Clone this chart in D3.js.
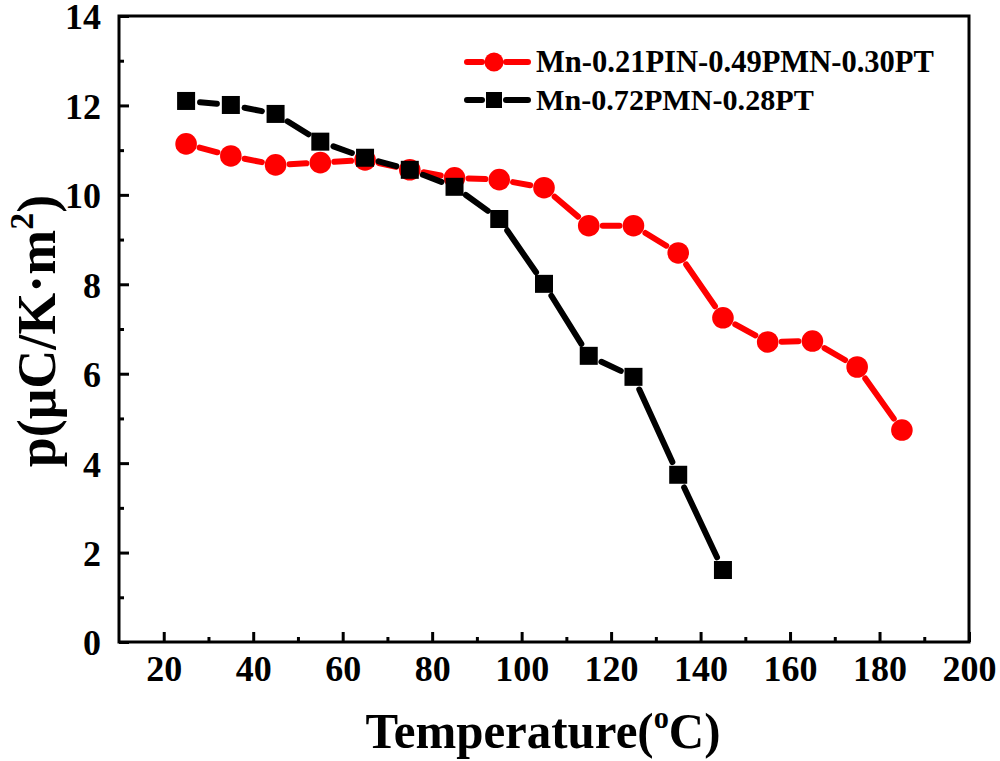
<!DOCTYPE html>
<html><head><meta charset="utf-8">
<script src="https://cdn.jsdelivr.net/npm/d3@7"></script>
<style>body{margin:0;background:#fff}svg{display:block}</style>
</head><body><svg id="c" width="1000" height="761"></svg>
<script>
const temps = [25,35,45,55,65,75,85,95,105,115,125,135,145,155,165,175,185];
const redName = "Mn-0.21PIN-0.49PMN-0.30PT";
const redVals = [11.14,10.87,10.67,10.72,10.78,10.56,10.38,10.34,10.16,9.31,9.31,8.70,7.25,6.71,6.73,6.15,4.74];
const blackName = "Mn-0.72PMN-0.28PT";
const blackTemps = [25,35,45,55,65,75,85,95,105,115,125,135,145];
const blackVals = [12.10,12.01,11.81,11.19,10.83,10.56,10.18,9.46,8.01,6.40,5.93,3.74,1.61];
const xTicks = [20,40,60,80,100,120,140,160,180,200];
const xMinor = [30,50,70,90,110,130,150,170,190];
const yTicks = [0,2,4,6,8,10,12,14];
const yMinor = [1,3,5,7,9,11,13];

const FONT = "'Liberation Serif', 'Times New Roman', serif";
const svg = d3.select("#c");
const L=119,R=969,T=16,B=642;
const x = d3.scaleLinear().domain([10,200]).range([L,R]);
const y = d3.scaleLinear().domain([0,14]).range([B,T]);

function series(xs, ys, color, shape){
  const pts = xs.map((t,i)=>[x(t),y(ys[i])]);
  const g = svg.append("g");
  const gap = 14;
  for(let i=0;i<pts.length-1;i++){
    const [x1,y1]=pts[i],[x2,y2]=pts[i+1];
    const dx=x2-x1,dy=y2-y1,len=Math.hypot(dx,dy);
    if(len<=2*gap) continue;
    const ux=dx/len,uy=dy/len;
    g.append("line").attr("x1",x1+ux*gap).attr("y1",y1+uy*gap)
      .attr("x2",x2-ux*gap).attr("y2",y2-uy*gap)
      .attr("stroke",color).attr("stroke-width",6).attr("stroke-linecap","round");
  }
  pts.forEach(p=>{
    if(shape==="circle") g.append("circle").attr("cx",p[0]).attr("cy",p[1]).attr("r",10.8).attr("fill",color);
    else g.append("rect").attr("x",p[0]-9).attr("y",p[1]-9).attr("width",18).attr("height",18).attr("fill",color);
  });
}
series(temps, redVals, "#ff0000", "circle");
series(blackTemps, blackVals, "#000000", "square");

svg.append("rect").attr("x",L).attr("y",T).attr("width",R-L).attr("height",B-T)
  .attr("fill","none").attr("stroke","#000").attr("stroke-width",3);

const xa = svg.append("g").attr("transform",`translate(0,${B})`)
  .call(d3.axisBottom(x).tickValues(xTicks).tickSize(-10).tickPadding(0).tickFormat(d3.format("d")));
xa.attr("font-family",FONT).attr("font-size",36).attr("font-weight","bold");
xa.select(".domain").remove();
xa.selectAll(".tick line").attr("stroke-width",3);
xa.selectAll("text").attr("fill","#000").attr("y",39).attr("dy",null);
const xm = svg.append("g").attr("transform",`translate(0,${B})`)
  .call(d3.axisBottom(x).tickValues(xMinor).tickSize(-5).tickFormat(""));
xm.select(".domain").remove(); xm.selectAll(".tick line").attr("stroke-width",3);

const ya = svg.append("g").attr("transform",`translate(${L},0)`)
  .call(d3.axisLeft(y).tickValues(yTicks).tickSize(-10).tickPadding(18).tickFormat(d3.format("d")));
ya.attr("font-family",FONT).attr("font-size",36).attr("font-weight","bold");
ya.select(".domain").remove();
ya.selectAll(".tick line").attr("stroke-width",3);
ya.selectAll("text").attr("fill","#000").attr("dy","0.36em");
const ym = svg.append("g").attr("transform",`translate(${L},0)`)
  .call(d3.axisLeft(y).tickValues(yMinor).tickSize(-5).tickFormat(""));
ym.select(".domain").remove(); ym.selectAll(".tick line").attr("stroke-width",3);

const xt = svg.append("text").attr("x",0).attr("y",0).attr("text-anchor","middle")
  .attr("font-family",FONT).attr("font-weight","bold").attr("font-size",50).attr("fill","#000");
xt.append("tspan").text("Temperature(");
xt.append("tspan").text("o").attr("font-size",31).attr("dy",-20);
xt.append("tspan").text("C)").attr("dy",20);
const xw = xt.node().getComputedTextLength();
const sx = 355/xw;
xt.attr("transform",`translate(543,748) scale(${sx},1)`);

const yt = svg.append("text").attr("transform","translate(55,331) rotate(-90)").attr("text-anchor","middle")
  .attr("font-family",FONT).attr("font-weight","bold").attr("font-size",54).attr("fill","#000");
yt.append("tspan").text("p(μC/K·m");
yt.append("tspan").text("2").attr("font-size",34).attr("dy",-22);
yt.append("tspan").text(")").attr("dy",22);

const leg = [[redName,"#ff0000","circle",62,398],[blackName,"#000","square",100,278]];
leg.forEach(([name,color,shape,ly,w])=>{
  const g = svg.append("g");
  g.append("line").attr("x1",467).attr("x2",482).attr("y1",ly).attr("y2",ly).attr("stroke",color).attr("stroke-width",6).attr("stroke-linecap","round");
  g.append("line").attr("x1",506).attr("x2",528).attr("y1",ly).attr("y2",ly).attr("stroke",color).attr("stroke-width",6).attr("stroke-linecap","round");
  if(shape==="circle") g.append("circle").attr("cx",494).attr("cy",ly).attr("r",9.5).attr("fill",color);
  else g.append("rect").attr("x",486).attr("y",ly-8).attr("width",16).attr("height",16).attr("fill",color);
  const t = g.append("text").attr("x",536).attr("y",ly+10).attr("font-family",FONT).attr("font-weight","bold")
    .attr("font-size",26).attr("fill","#000").text(name);
  const len = t.node().getComputedTextLength();
  t.attr("font-size", 26*w/len);
});
</script></body></html>
